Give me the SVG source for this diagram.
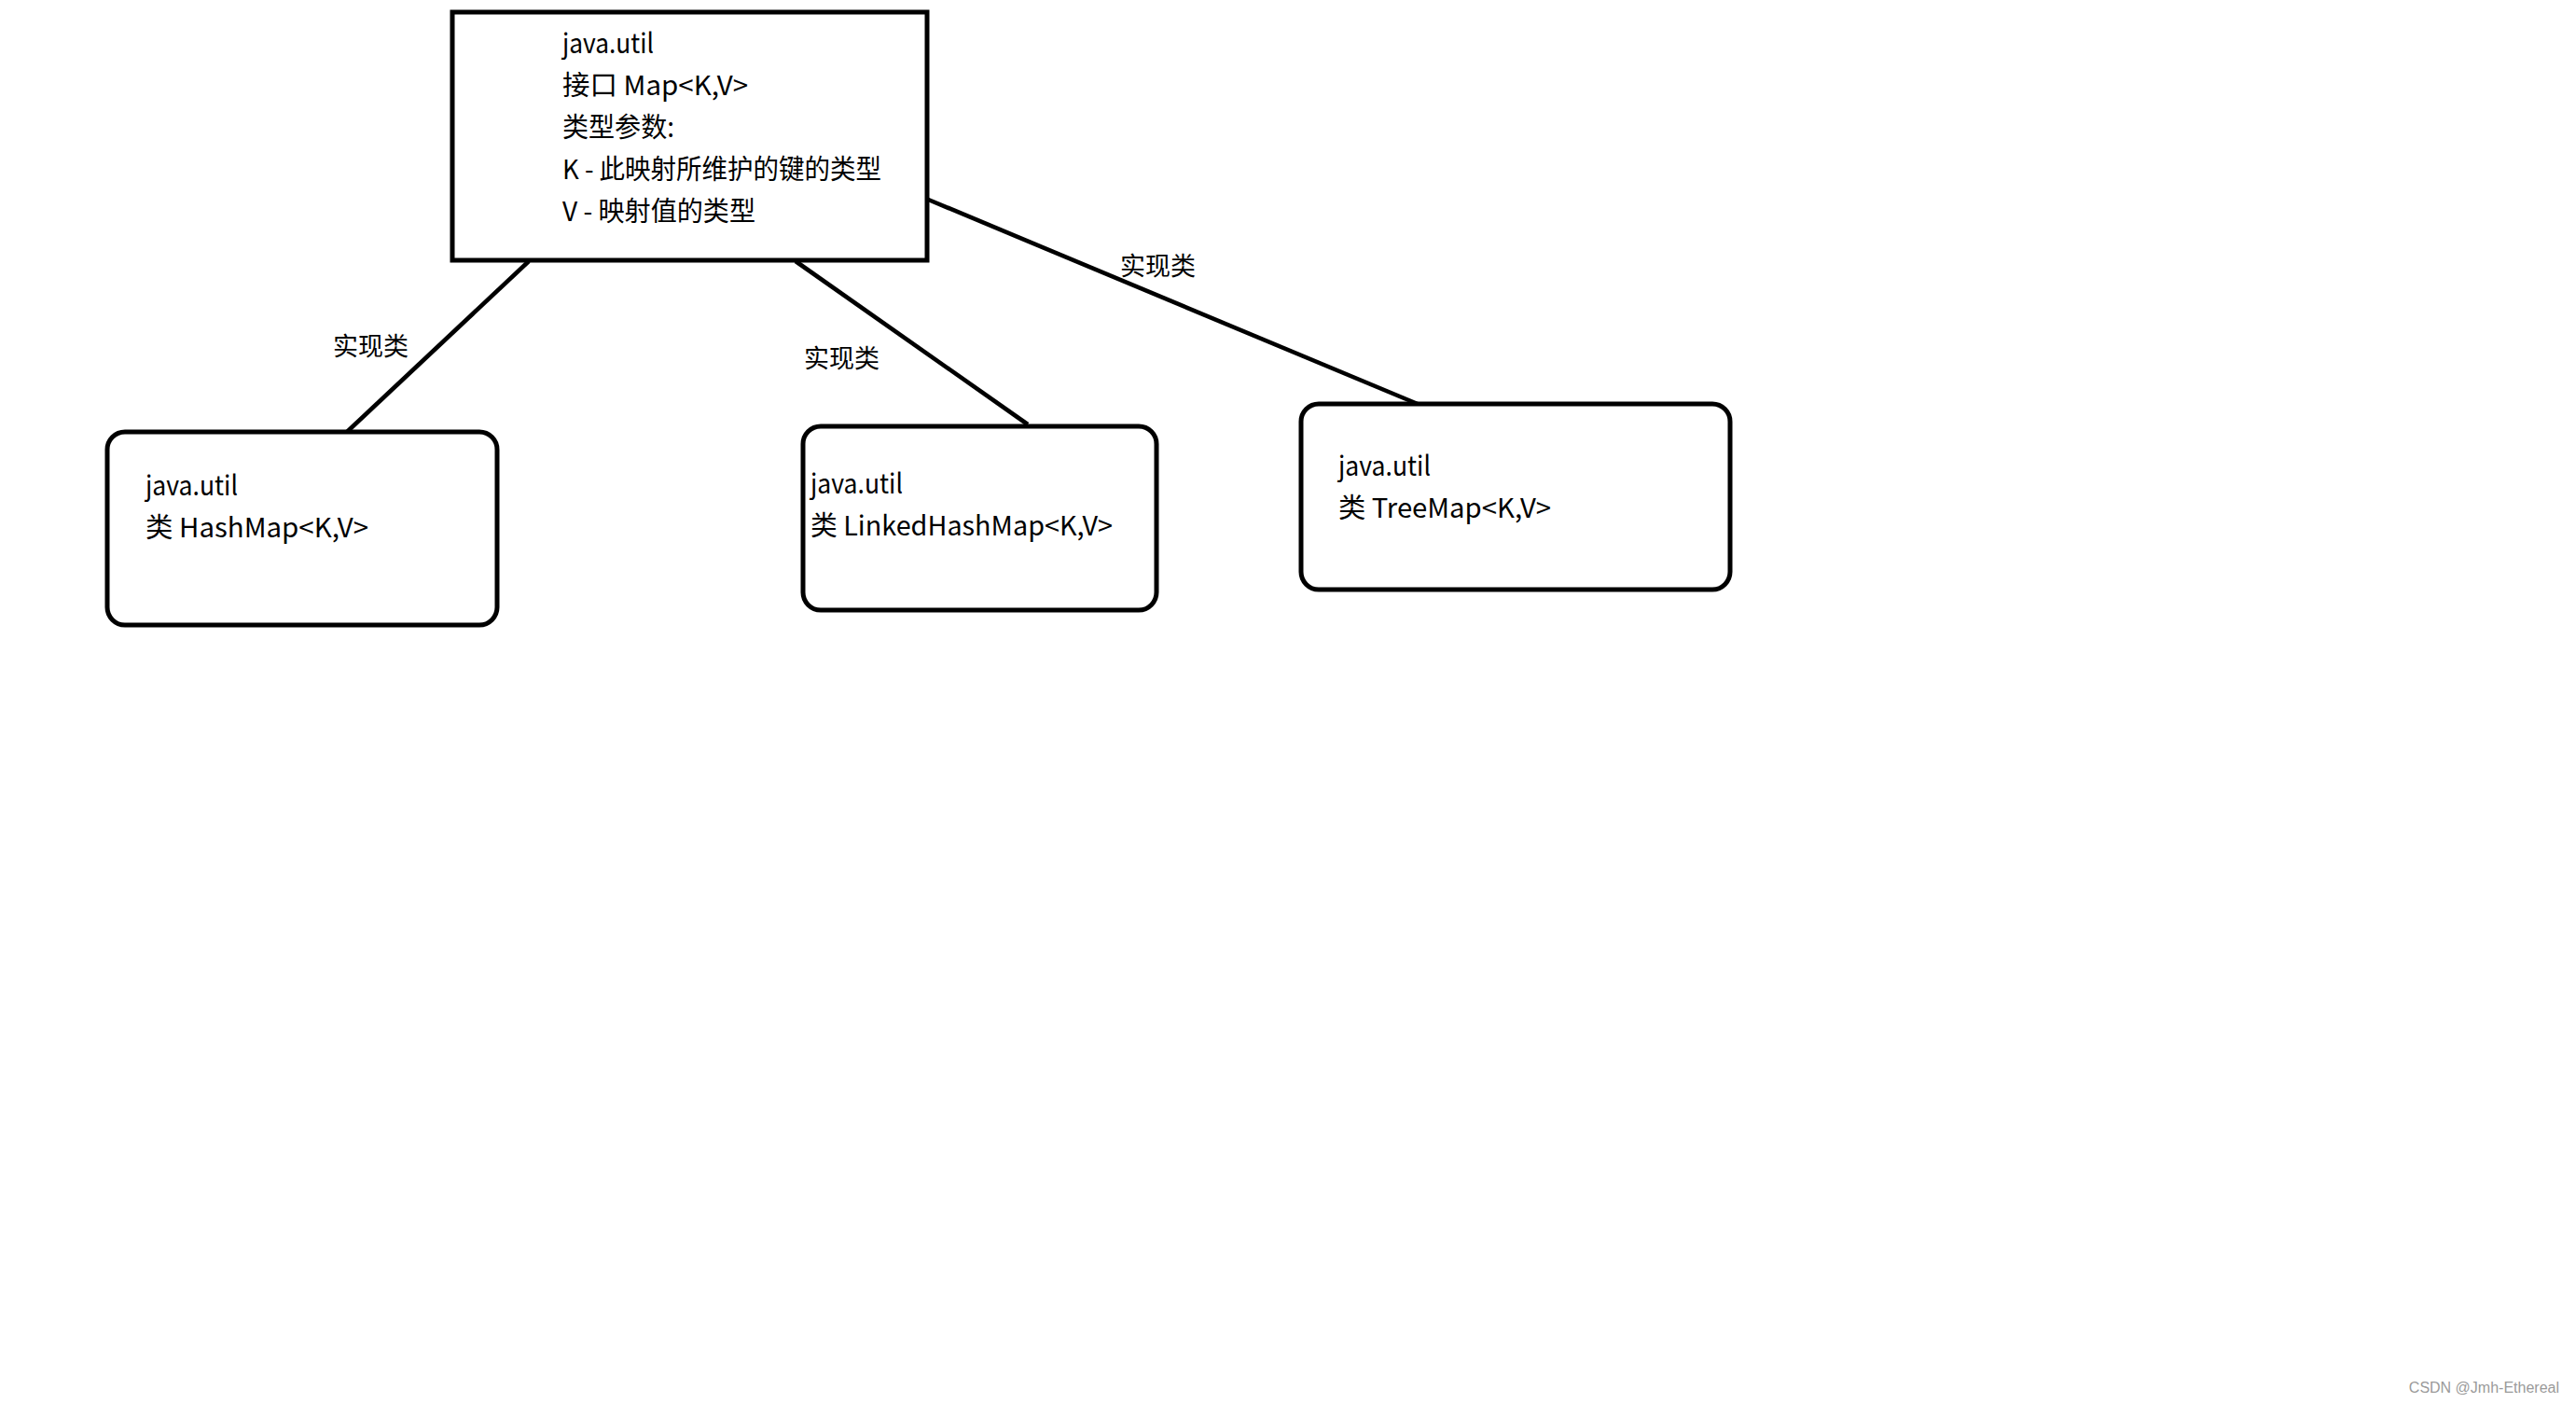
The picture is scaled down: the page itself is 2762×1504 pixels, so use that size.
<svg xmlns="http://www.w3.org/2000/svg" width="2762" height="1504" viewBox="0 0 2762 1504">
<style>
  .box { fill: #ffffff; stroke: #000000; stroke-width: 5; }
  .conn { stroke: #000000; stroke-width: 4.6; fill: none; }
  .t { font-family: "Noto Sans CJK SC", "Noto Sans", sans-serif; font-size: 29px; fill: #000000; }
  .lbl { font-family: "Noto Sans CJK SC", "Noto Sans", sans-serif; font-size: 27px; fill: #000000; }
  .wm { font-family: "Liberation Sans", Arial, sans-serif; font-size: 16px; fill: #9a9a9a; }
</style>
<rect width="2762" height="1504" fill="#ffffff"/>
<g id="connectors">
  <line class="conn" x1="567" y1="280" x2="372" y2="463"/>
  <line class="conn" x1="853" y1="280" x2="1102" y2="455"/>
  <line class="conn" x1="993" y1="213" x2="1520" y2="433"/>
  <text class="lbl" x="357" y="381" textLength="81" lengthAdjust="spacingAndGlyphs">实现类</text>
  <text class="lbl" x="862" y="394" textLength="81" lengthAdjust="spacingAndGlyphs">实现类</text>
  <text class="lbl" x="1201" y="295" textLength="81" lengthAdjust="spacingAndGlyphs">实现类</text>
</g>
<g id="map">
  <rect class="box" x="485" y="13" width="509" height="266"/>
  <text class="t" x="603" y="57" textLength="98" lengthAdjust="spacingAndGlyphs">java.util</text>
  <text class="t" x="603" y="102" textLength="199" lengthAdjust="spacingAndGlyphs">接口 Map&lt;K,V&gt;</text>
  <text class="t" x="603" y="147" textLength="120" lengthAdjust="spacingAndGlyphs">类型参数:</text>
  <text class="t" x="603" y="192" textLength="342" lengthAdjust="spacingAndGlyphs">K - 此映射所维护的键的类型</text>
  <text class="t" x="603" y="237" textLength="207" lengthAdjust="spacingAndGlyphs">V - 映射值的类型</text>
</g>
<g id="hashmap">
  <rect class="box" x="115" y="463" width="418" height="207" rx="19" ry="19"/>
  <text class="t" x="156" y="531" textLength="99" lengthAdjust="spacingAndGlyphs">java.util</text>
  <text class="t" x="156" y="576" textLength="239" lengthAdjust="spacingAndGlyphs">类 HashMap&lt;K,V&gt;</text>
</g>
<g id="linkedhashmap">
  <rect class="box" x="861" y="457" width="379" height="197" rx="19" ry="19"/>
  <text class="t" x="869" y="529" textLength="99" lengthAdjust="spacingAndGlyphs">java.util</text>
  <text class="t" x="869" y="574" textLength="324" lengthAdjust="spacingAndGlyphs">类 LinkedHashMap&lt;K,V&gt;</text>
</g>
<g id="treemap">
  <rect class="box" x="1395" y="433" width="460" height="199" rx="19" ry="19"/>
  <text class="t" x="1435" y="510" textLength="99" lengthAdjust="spacingAndGlyphs">java.util</text>
  <text class="t" x="1435" y="555" textLength="228" lengthAdjust="spacingAndGlyphs">类 TreeMap&lt;K,V&gt;</text>
</g>
<text class="wm" x="2744" y="1493" text-anchor="end">CSDN @Jmh-Ethereal</text>
</svg>
